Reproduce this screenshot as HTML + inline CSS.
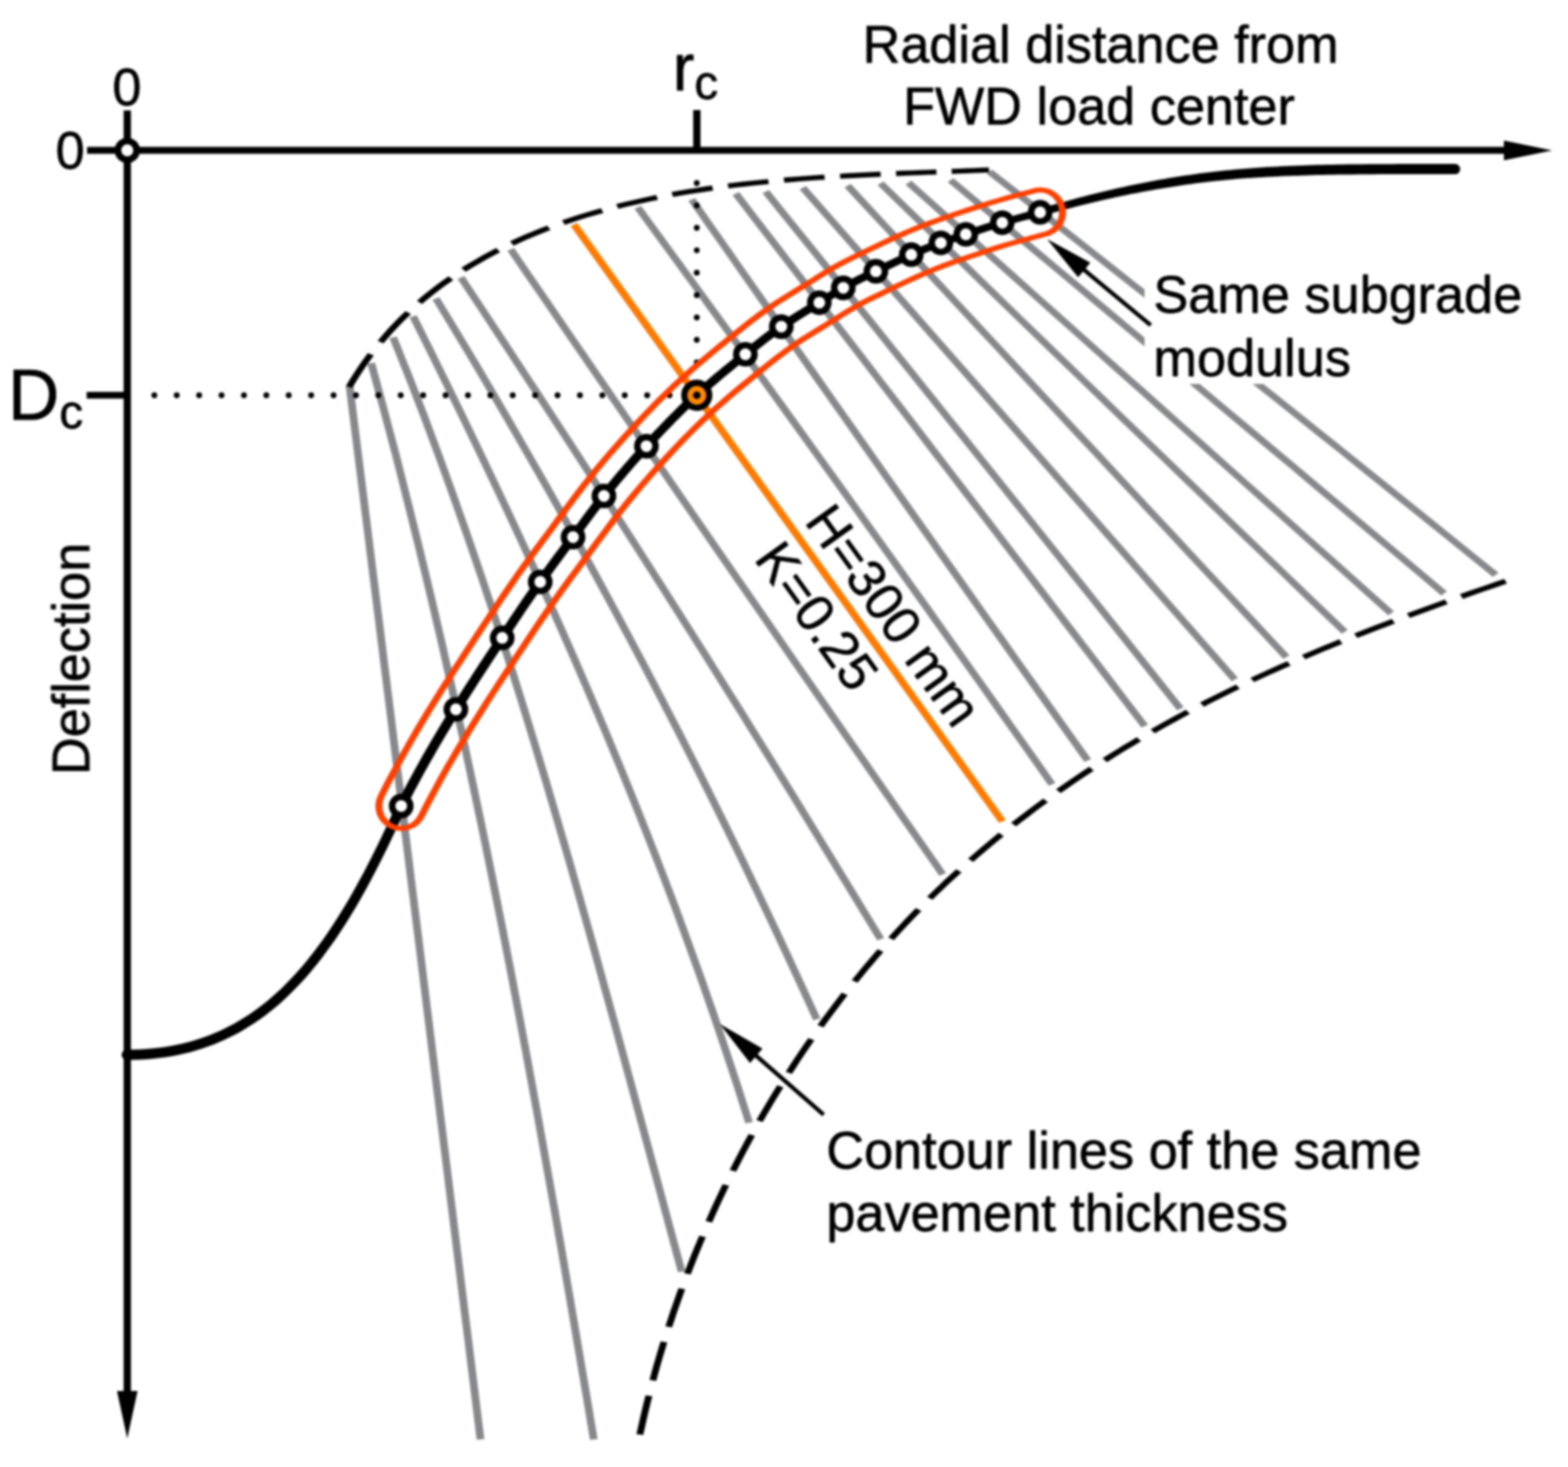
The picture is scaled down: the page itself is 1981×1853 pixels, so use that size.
<!DOCTYPE html>
<html lang="en"><head><meta charset="utf-8"><title>Deflection basin and contour lines</title>
<style>html,body{margin:0;padding:0;background:#fff}body{width:1981px;height:1853px;overflow:hidden}svg{display:block}text{font-family:"Liberation Sans",Arial,Helvetica,sans-serif;fill:#000}</style></head><body>
<svg width="1981" height="1853" viewBox="0 0 1981 1853">
<rect width="1981" height="1853" fill="#fff"/>
<defs><filter id="soft" x="0" y="0" width="1981" height="1853" filterUnits="userSpaceOnUse" color-interpolation-filters="sRGB"><feGaussianBlur stdDeviation="1.7 1.5"/></filter><clipPath id="nobox"><path clip-rule="evenodd" d="M0 0H1981V1853H0Z M1446 340H1946V485H1446Z"/></clipPath></defs>
<g filter="url(#soft)">
<g clip-path="url(#nobox)"><g fill="none" stroke="#87888c" stroke-width="7.5" transform="scale(1.3 1)">
<path d="M339.7,486.8 L345.2,544.7 L350.8,602.6 L356.4,660.5 L361.9,718.3 L367.5,776.2 L373,834.1 L378.6,892 L384.1,949.9 L389.7,1007.8 L395.2,1065.6 L400.7,1123.5 L406.3,1181.4 L411.8,1239.3 L417.3,1297.2 L422.8,1355.1 L428.3,1413 L433.9,1470.9 L439.4,1528.8 L444.9,1586.6 L450.4,1644.5 L456,1702.4 L461.5,1760.3 L467,1818.2"/>
<path d="M360.8,458.8 L373,517.2 L384.9,575.6 L396.3,634.2 L407.5,692.8 L418.4,751.5 L429,810.3 L439.2,869.2 L449.3,928.1 L459,987.1 L468.6,1046.2 L477.9,1105.3 L487,1164.5 L495.9,1223.7 L504.6,1283 L513.1,1342.3 L521.5,1401.7 L529.7,1461.1 L537.9,1520.6 L545.9,1580.1 L553.8,1639.6 L561.6,1699.1 L569.4,1758.6 L577.1,1818.2"/>
<path d="M382.1,426.2 L397.5,476.2 L412.4,526.4 L426.8,576.8 L440.9,627.4 L454.6,678.1 L468,728.9 L481,779.9 L493.7,831 L506.1,882.2 L518.2,933.5 L530.1,984.9 L541.8,1036.5 L553.3,1088 L564.6,1139.7 L575.8,1191.4 L586.8,1243.2 L597.8,1295 L608.6,1346.8 L619.4,1398.7 L630.2,1450.5 L641,1502.4 L651.7,1554.3 L662.5,1606.2"/>
<path d="M401.5,399.7 L418,442.7 L434.4,485.9 L450.6,529 L466.6,572.3 L482.5,615.7 L498.2,659.2 L513.7,702.7 L529,746.4 L544,790.2 L558.9,834.2 L573.5,878.2 L587.9,922.4 L602,966.7 L615.9,1011.1 L629.5,1055.7 L642.9,1100.5 L656,1145.3 L668.7,1190.4 L681.2,1235.6 L693.4,1281 L705.2,1326.5 L716.8,1372.2 L728,1418.2"/>
<path d="M423.7,377 L441.6,415.3 L459.4,453.8 L476.9,492.4 L494.3,531.1 L511.5,569.9 L528.6,608.8 L545.5,647.8 L562.3,687 L578.8,726.2 L595.2,765.6 L611.5,805.1 L627.6,844.7 L643.5,884.4 L659.3,924.2 L674.9,964.1 L690.3,1004.2 L705.6,1044.3 L720.7,1084.6 L735.6,1125 L750.4,1165.5 L765,1206.1 L779.5,1246.8 L793.8,1287.6"/>
<path d="M448,350.5 L466.3,386.4 L484.5,422.3 L502.7,458.2 L520.9,494.2 L539,530.3 L557.1,566.3 L575.1,602.5 L593,638.6 L610.9,674.8 L628.7,711.1 L646.5,747.4 L664.3,783.8 L682,820.1 L699.6,856.6 L717.2,893 L734.7,929.6 L752.2,966.1 L769.6,1002.7 L786.9,1039.4 L804.2,1076.1 L821.5,1112.8 L838.7,1149.6 L855.9,1186.4"/>
<path d="M496.4,315 L514.5,349.4 L532.7,383.8 L550.8,418.3 L569,452.6 L587.2,487 L605.4,521.4 L623.6,555.8 L641.8,590.1 L660,624.5 L678.2,658.8 L696.5,693.2 L714.7,727.5 L733,761.8 L751.2,796.1 L769.5,830.4 L787.8,864.7 L806.1,898.9 L824.4,933.2 L842.8,967.5 L861.1,1001.7 L879.4,1035.9 L897.8,1070.2 L916.1,1104.4"/>
<path d="M619.9,262 L637.6,293.5 L655.3,325 L673,356.5 L690.6,388.1 L708.3,419.6 L725.9,451.2 L743.5,482.8 L761,514.4 L778.6,546.1 L796.1,577.7 L813.6,609.4 L831.1,641 L848.6,672.7 L866.1,704.5 L883.5,736.2 L900.9,767.9 L918.3,799.7 L935.7,831.5 L953.1,863.3 L970.4,895.1 L987.8,927 L1005.1,958.8 L1022.4,990.7"/>
<path d="M672.3,252 L688.9,282.9 L705.6,313.8 L722.2,344.7 L738.9,375.6 L755.5,406.4 L772.2,437.3 L788.9,468.1 L805.6,499 L822.3,529.8 L839,560.6 L855.7,591.5 L872.4,622.3 L889.2,653.1 L905.9,683.8 L922.7,714.6 L939.5,745.4 L956.2,776.2 L973,806.9 L989.8,837.7 L1006.6,868.4 L1023.4,899.1 L1040.2,929.9 L1057.1,960.6"/>
<path d="M715.1,244.5 L732.4,273.8 L749.7,303 L767,332.2 L784.3,361.4 L801.6,390.6 L818.9,419.8 L836.2,449 L853.5,478.3 L870.8,507.5 L888.1,536.7 L905.3,566 L922.6,595.2 L939.9,624.5 L957.2,653.7 L974.4,682.9 L991.7,712.2 L1009,741.5 L1026.2,770.7 L1043.5,800 L1060.7,829.2 L1078,858.5 L1095.2,887.8 L1112.5,917.1"/>
<path d="M744.2,242.1 L761.8,270.4 L779.4,298.7 L797,327.1 L814.5,355.4 L832.1,383.7 L849.7,412.1 L867.2,440.5 L884.8,468.8 L902.3,497.2 L919.8,525.6 L937.4,554 L954.9,582.4 L972.4,610.8 L989.9,639.2 L1007.4,667.6 L1024.9,696.1 L1042.4,724.5 L1059.9,752.9 L1077.4,781.4 L1094.8,809.8 L1112.3,838.3 L1129.7,866.8 L1147.2,895.2"/>
<path d="M780.2,237.1 L798.4,264.1 L816.7,291.1 L835,318.1 L853.2,345.1 L871.5,372.1 L889.8,399.1 L908,426.1 L926.3,453.1 L944.6,480.1 L962.8,507.1 L981.1,534.1 L999.3,561.1 L1017.6,588.1 L1035.8,615.2 L1054.1,642.2 L1072.3,669.2 L1090.6,696.2 L1108.8,723.2 L1127,750.3 L1145.3,777.3 L1163.5,804.3 L1181.8,831.4 L1200,858.4"/>
<path d="M823.8,234.5 L842.3,260.5 L860.8,286.4 L879.3,312.3 L897.8,338.2 L916.3,364.1 L934.8,390.1 L953.3,416 L971.9,441.9 L990.4,467.8 L1008.9,493.7 L1027.5,519.6 L1046,545.5 L1064.6,571.3 L1083.1,597.2 L1101.7,623.1 L1120.2,649 L1138.8,674.8 L1157.3,700.7 L1175.9,726.6 L1194.4,752.4 L1213,778.3 L1231.6,804.1 L1250.2,830"/>
<path d="M855.8,231.5 L875.3,256.2 L894.9,280.9 L914.4,305.7 L934,330.4 L953.5,355.1 L973.1,379.8 L992.6,404.5 L1012.2,429.2 L1031.8,453.8 L1051.4,478.5 L1071,503.1 L1090.6,527.8 L1110.2,552.4 L1129.9,577 L1149.5,601.6 L1169.1,626.2 L1188.8,650.8 L1208.4,675.4 L1228.1,700 L1247.8,724.5 L1267.4,749.1 L1287.1,773.6 L1306.8,798.1"/>
<path d="M882.9,230.8 L903.3,254.4 L923.7,278.1 L944.1,301.7 L964.5,325.3 L984.9,349 L1005.3,372.6 L1025.7,396.3 L1046.1,419.9 L1066.5,443.6 L1086.9,467.2 L1107.3,490.8 L1127.7,514.5 L1148.1,538.1 L1168.5,561.8 L1188.8,585.4 L1209.2,609.1 L1229.6,632.7 L1250,656.4 L1270.4,680.1 L1290.8,703.7 L1311.2,727.4 L1331.5,751 L1351.9,774.7"/>
<path d="M923.8,227.5 L944.7,250.2 L965.5,272.8 L986.4,295.4 L1007.3,318.1 L1028.2,340.7 L1049.1,363.4 L1070,386.1 L1090.8,408.7 L1111.7,431.4 L1132.6,454.1 L1153.4,476.8 L1174.3,499.5 L1195.1,522.2 L1216,544.9 L1236.8,567.6 L1257.7,590.3 L1278.5,613.1 L1299.3,635.8 L1320.1,658.5 L1341,681.3 L1361.8,704 L1382.6,726.8 L1403.4,749.6"/>
<path d="M961.6,216.8 L983.1,238.7 L1004.6,260.7 L1026.1,282.6 L1047.6,304.6 L1069.1,326.6 L1090.5,348.7 L1112,370.7 L1133.4,392.8 L1154.8,414.9 L1176.3,437 L1197.7,459.1 L1219,481.3 L1240.4,503.4 L1261.8,525.6 L1283.1,547.8 L1304.5,570 L1325.8,592.3 L1347.1,614.6 L1368.4,636.8 L1389.7,659.1 L1411,681.5 L1432.3,703.8 L1453.6,726.2"/>
</g></g>
<g fill="none" stroke="#000" stroke-width="6.4" transform="scale(1.36 1)">
<path d="M324.3,488.7 L328.1,480.1 L332.1,471.7 L336.1,463.4 L340.2,455.4 L344.5,447.5 M353.5,432.1 L358.4,424.2 L363.4,416.6 L368.6,409.2 L373.8,402 L379.2,394.9 M389.7,382 L395.3,375.5 L401.1,369.2 L406.9,363.1 L412.9,357.1 L418.9,351.4 M430.6,340.8 L436.9,335.5 L443.3,330.4 L449.7,325.4 L456.2,320.6 L462.8,315.9 M475.5,307.5 L482.3,303.2 L489.1,299.1 L496,295.2 L503,291.4 L509.9,287.7 M523.4,281.1 L530.5,277.8 L537.7,274.6 L544.9,271.6 L552.2,268.7 L559.4,265.9 M573.4,260.8 L580.7,258.3 L588.1,256 L595.5,253.7 L602.9,251.5 L610.4,249.4 M624.5,245.7 L632,243.9 L639.5,242.2 L647,240.6 L654.5,239 L662,237.5 M676.3,234.9 L683.8,233.7 L691.3,232.5 L698.8,231.3 L706.4,230.3 L713.9,229.3 M728.3,227.5 L735.8,226.7 L743.4,225.9 L750.9,225.1 L758.5,224.4 L766,223.7 M780.4,222.6 L787.9,222 L795.5,221.5 L803,221 L810.5,220.5 L818.1,220 M832.4,219.2 L839.9,218.8 L847.4,218.4 L854.9,218 L862.4,217.6 L869.9,217.2 M884.1,216.5 L891,216.1 L898,215.8 L905,215.4 L911.9,215 L918.8,214.6 M1398.6,734.1 L1390.4,738 L1382.2,741.8 L1374,745.7 L1365.8,749.5 L1357.6,753.5 M1343.6,760.2 L1336.5,763.6 L1329.5,767.1 L1322.4,770.6 L1315.3,774.1 L1308.3,777.6 M1294.4,784.6 L1287.4,788.3 L1280.4,791.9 L1273.3,795.6 L1266.3,799.3 L1259.4,803 M1245.6,810.4 L1238.7,814.3 L1231.7,818.1 L1224.8,822.1 L1217.9,826 L1211,830 M1197.4,837.9 L1190.6,842 L1183.7,846.2 L1176.9,850.4 L1170.1,854.6 L1163.3,858.9 M1150,867.4 L1143.3,871.8 L1136.6,876.3 L1129.9,880.8 L1123.2,885.4 L1116.6,890 M1103.5,899.2 L1096.9,904 L1090.4,908.9 L1083.8,913.8 L1077.3,918.7 L1070.8,923.7 M1058.1,933.7 L1051.7,938.9 L1045.3,944.1 L1039,949.4 L1032.6,954.8 L1026.3,960.2 M1014,971 L1007.8,976.5 L1001.6,982.2 L995.4,987.9 L989.3,993.6 L983.2,999.4 M971.3,1011 L965.3,1017 L959.3,1023 L953.4,1029.2 L947.5,1035.3 L941.6,1041.5 M930.1,1054 L924.4,1060.4 L918.7,1066.8 L913,1073.4 L907.3,1080 L901.7,1086.6 M890.8,1099.9 L885.3,1106.7 L879.8,1113.6 L874.4,1120.6 L869,1127.6 L863.7,1134.7 M853.4,1148.8 L848.1,1156.1 L843,1163.4 L837.9,1170.8 L832.8,1178.3 L827.8,1185.8 M818,1200.7 L813.1,1208.4 L808.2,1216.2 L803.4,1223.9 L798.6,1231.8 L793.9,1239.7 M784.7,1255.4 L780.1,1263.5 L775.6,1271.6 L771.1,1279.7 L766.6,1287.9 L762.2,1296.2 M753.7,1312.6 L749.4,1321 L745.2,1329.4 L741,1337.9 L736.9,1346.5 L732.8,1355.1 M724.9,1372.1 L720.9,1380.8 L717,1389.5 L713.2,1398.3 L709.4,1407.1 L705.6,1416 M698.4,1433.6 L694.8,1442.5 L691.2,1451.6 L687.7,1460.6 L684.3,1469.7 L680.8,1478.8 M674.3,1496.8 L671,1506.1 L667.8,1515.3 L664.6,1524.6 L661.5,1533.9 L658.5,1543.2 M652.6,1561.7 L649.7,1571.1 L646.8,1580.5 L644,1590 L641.3,1599.5 L638.6,1609 M633.4,1627.8 L630.9,1637.4 L628.4,1647 L625.9,1656.6 L623.6,1666.2 L621.2,1675.9 M616.8,1695 L614.6,1704.7 L612.5,1714.4 L610.4,1724.2 L608.4,1733.9 L606.5,1743.7 M602.8,1763 L601,1772.8 L599.3,1782.6 L597.6,1792.4 L596,1802.3 L594.4,1812.1"/>
</g>
<g fill="#000">
<circle cx="195" cy="499.3" r="3.7"/>
<circle cx="223.3" cy="499.3" r="3.7"/>
<circle cx="251.6" cy="499.3" r="3.7"/>
<circle cx="279.9" cy="499.3" r="3.7"/>
<circle cx="308.2" cy="499.3" r="3.7"/>
<circle cx="336.5" cy="499.3" r="3.7"/>
<circle cx="364.8" cy="499.3" r="3.7"/>
<circle cx="393.1" cy="499.3" r="3.7"/>
<circle cx="421.4" cy="499.3" r="3.7"/>
<circle cx="449.7" cy="499.3" r="3.7"/>
<circle cx="478" cy="499.3" r="3.7"/>
<circle cx="506.3" cy="499.3" r="3.7"/>
<circle cx="534.6" cy="499.3" r="3.7"/>
<circle cx="562.9" cy="499.3" r="3.7"/>
<circle cx="591.2" cy="499.3" r="3.7"/>
<circle cx="619.5" cy="499.3" r="3.7"/>
<circle cx="647.8" cy="499.3" r="3.7"/>
<circle cx="676.1" cy="499.3" r="3.7"/>
<circle cx="704.4" cy="499.3" r="3.7"/>
<circle cx="732.7" cy="499.3" r="3.7"/>
<circle cx="761" cy="499.3" r="3.7"/>
<circle cx="789.3" cy="499.3" r="3.7"/>
<circle cx="817.6" cy="499.3" r="3.7"/>
<circle cx="845.9" cy="499.3" r="3.7"/>
<circle cx="880.3" cy="231.2" r="3.7"/>
<circle cx="880.3" cy="259.5" r="3.7"/>
<circle cx="880.3" cy="287.8" r="3.7"/>
<circle cx="880.3" cy="316.1" r="3.7"/>
<circle cx="880.3" cy="344.4" r="3.7"/>
<circle cx="880.3" cy="372.7" r="3.7"/>
<circle cx="880.3" cy="401" r="3.7"/>
<circle cx="880.3" cy="429.3" r="3.7"/>
<circle cx="880.3" cy="457.6" r="3.7"/>
</g>
<g fill="none" stroke="#ff7a00" stroke-width="7.5" transform="scale(1.3 1)"><path d="M557.8,283.6 L974.1,1037.5"/></g>
<path d="M160.3,1338.8 L168.8,1338.7 L177.2,1338.4 L185.6,1337.9 L193.8,1337.2 L201.9,1336.3 L209.8,1335.2 L217.7,1333.9 L225.4,1332.4 L233,1330.7 L240.5,1328.9 L247.9,1326.8 L255.2,1324.5 L262.4,1322.1 L269.5,1319.4 L276.5,1316.6 L283.4,1313.6 L290.1,1310.3 L296.8,1306.9 L303.4,1303.4 L309.9,1299.6 L316.3,1295.6 L322.6,1291.5 L328.8,1287.2 L335,1282.7 L341,1278 L347,1273.2 L352.9,1268.2 L358.7,1263 L364.4,1257.6 L370,1252 L375.6,1246.3 L381.1,1240.4 L386.6,1234.4 L392,1228.2 L397.3,1221.8 L402.6,1215.2 L407.8,1208.5 L412.9,1201.6 L418,1194.6 L423.1,1187.4 L428.1,1180 L433,1172.5 L438,1164.8 L442.8,1156.9 L447.7,1148.9 L452.5,1140.8 L457.2,1132.4 L462,1124 L466.7,1115.3 L471.3,1106.5 L476,1097.6 L480.6,1088.5 L485.2,1079.3 L489.8,1069.9 L494.4,1060.3 L499,1050.6 L503.6,1040.8 L508.1,1030.8 L512.6,1020.8 L515.4,1015.2 L518.3,1009.5 L521.3,1003.8 L524.2,998.1 L527.3,992.5 L530.3,986.8 L533.3,981.2 L536.4,975.5 L539.5,969.9 L542.7,964.3 L545.8,958.7 L549,953.2 L552.2,947.6 L555.4,942.1 L558.7,936.5 L561.9,931 L565.2,925.5 L568.5,920 L571.8,914.5 L575.2,909 L578.5,903.5 L581.9,898.1 L585.3,892.6 L588.7,887.2 L592.2,881.7 L595.6,876.3 L599.1,870.9 L602.5,865.5 L606,860.1 L609.5,854.7 L613,849.3 L616.5,843.9 L620,838.5 L623.6,833.1 L627.1,827.8 L630.6,822.4 L634.2,817 L637.7,811.6 L641.3,806.3 L644.8,800.9 L648.4,795.5 L651.9,790.2 L655.5,784.8 L659.1,779.5 L662.6,774.1 L666.2,768.8 L669.8,763.5 L673.5,758.2 L677.1,752.9 L680.8,747.6 L684.4,742.4 L688.2,737.1 L691.9,731.9 L695.6,726.7 L699.4,721.5 L703.2,716.3 L707,711.2 L710.8,706 L714.7,700.8 L718.5,695.6 L722.3,690.5 L726.2,685.3 L730,680.1 L733.8,674.9 L737.6,669.7 L741.4,664.5 L745.3,659.3 L749.1,654.2 L752.9,649 L756.8,643.9 L760.7,638.8 L764.6,633.7 L768.5,628.7 L772.5,623.7 L776.5,618.7 L780.6,613.8 L784.6,608.8 L788.8,603.9 L792.9,599 L797.1,594.2 L801.3,589.3 L805.5,584.5 L809.8,579.7 L814,574.9 L818.3,570.1 L822.7,565.4 L827,560.7 L831.4,556 L835.8,551.3 L840.2,546.6 L844.6,542 L849.1,537.4 L853.5,532.8 L858.1,528.2 L862.6,523.7 L867.2,519.3 L871.8,514.8 L876.4,510.4 L881.1,506.1 L885.8,501.8 L890.6,497.5 L895.3,493.3 L900.2,489.1 L905,484.9 L909.9,480.7 L914.8,476.6 L919.7,472.5 L924.7,468.4 L929.7,464.3 L934.6,460.2 L939.6,456.2 L944.6,452.1 L949.6,448 L954.6,444 L959.6,440 L964.7,436 L969.7,432 L974.8,428.2 L979.9,424.3 L985,420.6 L990.2,416.9 L995.4,413.4 L1000.7,409.9 L1006.1,406.4 L1011.5,403 L1017,399.6 L1022.5,396.2 L1028,392.9 L1033.5,389.5 L1038.9,386 L1044.4,382.6 L1049.8,379.1 L1055.2,375.7 L1060.7,372.3 L1066.1,369.1 L1071.6,366 L1077.2,362.9 L1082.8,360 L1088.5,357.1 L1094.3,354.3 L1100.1,351.4 L1105.9,348.6 L1111.7,345.8 L1117.5,343 L1123.3,340.2 L1129,337.4 L1134.8,334.7 L1140.6,332 L1146.4,329.3 L1152.3,326.7 L1158.1,324.1 L1164,321.6 L1169.9,319.2 L1175.9,316.8 L1181.8,314.5 L1187.8,312.3 L1193.8,310.1 L1199.8,308 L1205.9,305.9 L1212,303.8 L1218.1,301.8 L1224.2,299.7 L1230.3,297.7 L1236.4,295.7 L1242.5,293.7 L1248.6,291.7 L1254.7,289.7 L1260.8,287.8 L1267,286 L1273.1,284.2 L1279.3,282.4 L1285.4,280.7 L1291.6,279 L1297.9,277.4 L1304.1,275.8 L1310.3,274.1 L1316.6,272.5 L1322.8,270.8 L1329,269.1 L1335.2,267.4 L1341.4,265.7 L1347.7,264.1 L1353.9,262.4 L1360.1,260.8 L1366.3,259.3 L1372.5,257.7 L1378.8,256.2 L1385,254.7 L1391.3,253.3 L1397.5,251.8 L1403.8,250.4 L1410,249.1 L1416.3,247.7 L1422.6,246.4 L1428.9,245.1 L1435.2,243.9 L1441.5,242.7 L1447.8,241.5 L1454.1,240.4 L1460.4,239.3 L1466.7,238.2 L1473,237.2 L1479.4,236.2 L1485.7,235.2 L1492.1,234.3 L1498.4,233.3 L1504.7,232.5 L1511.1,231.6 L1517.5,230.8 L1523.8,230 L1530.2,229.3 L1536.6,228.6 L1542.9,227.9 L1549.3,227.3 L1555.7,226.7 L1562.1,226.1 L1568.4,225.6 L1574.8,225.1 L1581.2,224.7 L1587.6,224.3 L1594,223.9 L1600.4,223.5 L1606.8,223.2 L1613.2,222.9 L1619.7,222.6 L1626.1,222.3 L1632.5,222.1 L1638.9,221.9 L1645.3,221.7 L1651.7,221.5 L1658.2,221.3 L1664.6,221.1 L1671,221 L1677.4,220.8 L1683.9,220.7 L1690.3,220.6 L1696.7,220.5 L1703.1,220.4 L1709.6,220.4 L1716,220.3 L1722.4,220.3 L1728.9,220.2 L1735.3,220.2 L1741.7,220.1 L1748.2,220.1 L1754.6,220.1 L1761,220.1 L1767.5,220.1 L1773.9,220.1 L1780.3,220.1 L1786.8,220.1 L1793.2,220.1 L1799.7,220.1 L1806.1,220.1 L1812.5,220.1 L1819,220.1 L1825.4,220.1 L1831.9,220.1 L1838.3,220.1 L1838.3,207.1 L1831.9,207.1 L1825.4,207.1 L1819,207.1 L1812.5,207.1 L1806.1,207.1 L1799.7,207.1 L1793.2,207.1 L1786.8,207.1 L1780.3,207.1 L1773.9,207.1 L1767.4,207.1 L1761,207.2 L1754.6,207.2 L1748.1,207.2 L1741.7,207.2 L1735.2,207.3 L1728.8,207.3 L1722.3,207.4 L1715.9,207.4 L1709.4,207.5 L1703,207.6 L1696.5,207.7 L1690.1,207.8 L1683.6,207.9 L1677.2,208 L1670.7,208.2 L1664.3,208.3 L1657.8,208.5 L1651.4,208.7 L1644.9,208.9 L1638.4,209.2 L1632,209.4 L1625.5,209.7 L1619.1,210 L1612.6,210.4 L1606.2,210.7 L1599.7,211.1 L1593.3,211.5 L1586.8,212 L1580.3,212.4 L1573.9,212.9 L1567.4,213.5 L1561,214.1 L1554.5,214.7 L1548.1,215.3 L1541.7,216 L1535.2,216.7 L1528.8,217.5 L1522.4,218.3 L1516,219.1 L1509.5,220 L1503.1,220.9 L1496.7,221.8 L1490.3,222.8 L1483.9,223.8 L1477.5,224.8 L1471.2,225.9 L1464.8,227.1 L1458.4,228.2 L1452.1,229.4 L1445.7,230.7 L1439.4,231.9 L1433,233.2 L1426.7,234.5 L1420.4,235.9 L1414.1,237.3 L1407.7,238.7 L1401.4,240.2 L1395.2,241.7 L1388.9,243.2 L1382.6,244.8 L1376.3,246.3 L1370.1,248 L1363.8,249.6 L1357.6,251.3 L1351.3,252.9 L1345.1,254.7 L1338.9,256.4 L1332.7,258.1 L1326.5,259.8 L1320.3,261.6 L1314.1,263.3 L1307.9,265 L1301.7,266.7 L1295.4,268.3 L1289.2,270 L1283,271.7 L1276.7,273.4 L1270.5,275.2 L1264.3,277 L1258.1,278.8 L1251.9,280.7 L1245.7,282.6 L1239.6,284.6 L1233.4,286.6 L1227.3,288.6 L1221.2,290.6 L1215,292.7 L1208.9,294.7 L1202.8,296.7 L1196.7,298.8 L1190.6,300.9 L1184.4,303.1 L1178.4,305.4 L1172.3,307.7 L1166.3,310.1 L1160.2,312.5 L1154.2,315.1 L1148.3,317.6 L1142.4,320.3 L1136.5,323 L1130.6,325.7 L1124.8,328.4 L1118.9,331.2 L1113.1,334 L1107.3,336.8 L1101.5,339.6 L1095.7,342.4 L1089.8,345.2 L1084,348 L1078.2,350.9 L1072.4,353.9 L1066.7,357 L1061,360.2 L1055.4,363.6 L1049.8,366.9 L1044.3,370.4 L1038.9,373.8 L1033.4,377.2 L1028,380.6 L1022.5,384 L1017,387.3 L1011.5,390.7 L1006,394.1 L1000.5,397.5 L995,401 L989.5,404.5 L984.1,408.2 L978.8,411.9 L973.5,415.7 L968.3,419.6 L963.1,423.5 L958,427.5 L952.9,431.5 L947.8,435.6 L942.8,439.6 L937.8,443.7 L932.8,447.7 L927.8,451.8 L922.8,455.9 L917.8,460 L912.8,464.1 L907.8,468.2 L902.8,472.3 L897.9,476.5 L893,480.7 L888.1,485 L883.2,489.2 L878.4,493.6 L873.6,497.9 L868.8,502.3 L864.1,506.8 L859.4,511.3 L854.8,515.8 L850.2,520.4 L845.6,525 L841.1,529.6 L836.6,534.2 L832.1,538.9 L827.6,543.6 L823.2,548.3 L818.8,553 L814.4,557.8 L810,562.6 L805.7,567.4 L801.3,572.2 L797,577 L792.8,581.9 L788.5,586.8 L784.3,591.7 L780.1,596.6 L775.9,601.5 L771.8,606.5 L767.7,611.5 L763.6,616.6 L759.6,621.6 L755.6,626.7 L751.6,631.9 L747.7,637 L743.8,642.2 L739.9,647.3 L736,652.5 L732.2,657.7 L728.4,662.9 L724.5,668.1 L720.7,673.2 L716.9,678.4 L713.1,683.6 L709.2,688.7 L705.4,693.9 L701.5,699.1 L697.7,704.3 L693.8,709.5 L690,714.7 L686.2,719.9 L682.4,725.1 L678.6,730.3 L674.9,735.6 L671.2,740.9 L667.5,746.2 L663.8,751.5 L660.1,756.8 L656.5,762.2 L652.9,767.5 L649.2,772.9 L645.6,778.2 L642.1,783.6 L638.5,788.9 L634.9,794.3 L631.3,799.7 L627.8,805 L624.2,810.4 L620.7,815.8 L617.1,821.2 L613.5,826.5 L610,831.9 L606.4,837.3 L602.9,842.7 L599.4,848.1 L595.9,853.5 L592.4,858.9 L588.9,864.3 L585.4,869.8 L581.9,875.2 L578.4,880.7 L575,886.1 L571.5,891.6 L568.1,897.1 L564.7,902.6 L561.4,908.1 L558,913.6 L554.7,919.1 L551.3,924.7 L548,930.2 L544.7,935.8 L541.5,941.4 L538.2,947 L535,952.6 L531.8,958.2 L528.7,963.9 L525.5,969.5 L522.4,975.2 L519.3,980.9 L516.2,986.6 L513.2,992.3 L510.2,998 L507.2,1003.8 L504.2,1009.5 L501.2,1015.4 L496.6,1025.6 L492.1,1035.5 L487.6,1045.3 L483,1054.9 L478.5,1064.4 L473.9,1073.7 L469.4,1082.8 L464.8,1091.8 L460.2,1100.7 L455.5,1109.3 L450.9,1117.8 L446.2,1126.2 L441.5,1134.4 L436.8,1142.4 L432,1150.3 L427.2,1158 L422.4,1165.6 L417.5,1172.9 L412.6,1180.2 L407.7,1187.2 L402.7,1194.1 L397.7,1200.8 L392.6,1207.3 L387.5,1213.7 L382.3,1219.9 L377,1226 L371.8,1231.8 L366.4,1237.5 L361,1243 L355.6,1248.4 L350,1253.5 L344.4,1258.5 L338.8,1263.4 L333.1,1268 L327.3,1272.5 L321.4,1276.8 L315.4,1280.9 L309.4,1284.8 L303.3,1288.6 L297.1,1292.2 L290.9,1295.6 L284.5,1298.8 L278,1301.9 L271.5,1304.7 L264.8,1307.4 L258.1,1309.9 L251.3,1312.3 L244.3,1314.4 L237.2,1316.4 L230.1,1318.2 L222.8,1319.8 L215.4,1321.2 L207.9,1322.4 L200.3,1323.4 L192.5,1324.3 L184.6,1325 L176.6,1325.4 L168.5,1325.7 L160.1,1325.8 Z" fill="#000"/>
<circle cx="160.2" cy="1332.3" r="6.5" fill="#000"/><circle cx="1838.3" cy="213.6" r="6.5" fill="#000"/>
<g fill="none" stroke="#ff3f00" stroke-width="6.4" stroke-linejoin="round" transform="scale(1.36 1)"><path d="M393.2,1025.8 L396.9,1015.9 L400.8,1006 L404.7,996.1 L408.6,986.2 L412.6,976.4 L416.7,966.6 L420.9,956.9 L425,947.2 L429.3,937.5 L433.6,927.9 L437.9,918.2 L442.3,908.6 L446.7,899.1 L451.1,889.5 L455.6,880 L460.1,870.5 L464.7,860.9 L469.3,851.4 L473.9,841.9 L478.5,832.4 L483.1,822.9 L487.8,813.3 L492.4,803.8 L497.1,794.4 L501.7,785 L506.4,775.7 L511.1,766.4 L515.8,757.2 L520.6,748 L525.4,738.9 L530.3,729.8 L535.3,720.7 L540.3,711.5 L545.3,702.3 L547.8,697.7 L550.3,693 L555.3,683.8 L560.3,674.7 L565.3,665.6 L570.2,656.6 L575.2,647.8 L580.2,639.1 L585.4,630.5 L590.6,621.9 L595.9,613.4 L601.3,604.9 L606.7,596.5 L612.2,588.2 L617.8,579.9 L623.4,571.6 L629,563.5 L634.7,555.4 L640.4,547.5 L646.2,539.7 L652,532 L657.9,524.4 L663.9,517 L670,509.7 L676.2,502.4 L682.4,495.2 L688.8,488 L695.2,480.9 L701.7,473.7 L708.2,466.5 L714.7,459.4 L721.1,452.5 L727.5,445.9 L733.9,439.5 L740.3,433.4 L746.9,427.5 L753.8,421.7 L760.9,415.7 L764.5,412.7 L768.2,409.7 L771.8,406.6 L775.4,403.5 L782.5,397.4 L789.3,391.7 L796,386.4 L802.8,381.4 L810,376.5 L817.4,371.7 L825,366.7 L832.6,361.7 L840.1,356.9 L847.5,352.2 L854.8,347.7 L862.2,343.4 L869.6,339.3 L877.1,335.4 L884.7,331.6 L892.4,328 L900.3,324.4 L908.2,320.8 L916.1,317.3 L924,313.8 L931.8,310.5 L939.5,307.4 L947.4,304.4 L955.4,301.4 L963.5,298.5 L967.6,297 L973.6,294.7 L977.3,292.2 L980.5,288.8 L983.2,284.7 L985.2,279.9 L986.5,274.6 L987,269.1 L986.8,263.6 L985.7,258.2 L983.9,253.2 L981.4,248.8 L978.4,245.2 L974.8,242.4 L971,240.6 L966.9,239.9 L962.8,240.3 L956.8,242.4 L948.7,245.3 L944.6,246.8 L940.4,248.3 L936.3,249.8 L932.1,251.4 L927.9,253.1 L923.7,254.7 L919.6,256.4 L915.4,258.2 L911.3,259.9 L907.2,261.7 L903.2,263.5 L899.1,265.3 L891.1,268.9 L887.1,270.7 L883.1,272.6 L879,274.4 L874.9,276.4 L870.8,278.3 L866.6,280.3 L862.5,282.4 L858.4,284.5 L854.3,286.7 L850.2,288.9 L846.1,291.2 L842,293.5 L838,295.9 L834,298.3 L830,300.8 L826.1,303.2 L822.2,305.7 L818.4,308.2 L814.5,310.7 L806.9,315.7 L799.4,320.6 L795.5,323.2 L791.7,325.7 L787.8,328.4 L783.8,331.1 L779.9,333.9 L775.9,336.8 L771.9,339.9 L768,343.1 L764.2,346.2 L760.4,349.4 L756.8,352.6 L753.2,355.6 L746.2,361.5 L739.1,367.5 L735.5,370.5 L731.8,373.6 L728.1,376.7 L724.4,379.9 L720.7,383.2 L716.9,386.6 L713.2,390 L709.5,393.6 L705.9,397.1 L702.4,400.7 L698.9,404.3 L695.4,408 L692,411.6 L688.7,415.3 L685.3,418.9 L682,422.5 L675.5,429.7 L672.2,433.4 L668.9,437 L665.6,440.7 L662.3,444.4 L659,448.1 L655.7,451.9 L652.4,455.6 L649.1,459.4 L645.8,463.3 L642.5,467.1 L639.3,471 L636,475 L632.8,479 L629.6,483 L626.4,487 L623.2,491.1 L620.1,495.2 L617,499.4 L613.9,503.5 L610.8,507.7 L607.8,511.9 L604.8,516.1 L601.8,520.3 L598.8,524.5 L595.8,528.8 L592.9,533.1 L590,537.4 L587.1,541.6 L584.2,546 L581.3,550.3 L578.4,554.6 L575.6,559 L572.7,563.4 L569.9,567.8 L567,572.2 L564.2,576.6 L561.4,581.1 L558.6,585.6 L555.9,590.1 L553.1,594.7 L550.4,599.3 L547.7,603.9 L545,608.5 L542.3,613.1 L539.7,617.8 L537.1,622.4 L534.5,627.1 L531.9,631.7 L529.4,636.4 L526.8,641 L524.3,645.6 L519.3,654.8 L514.4,664 L509.4,673.2 L504.3,682.4 L501.8,687 L499.3,691.6 L496.8,696.3 L494.2,701 L491.7,705.7 L489.2,710.4 L486.7,715.1 L484.2,719.9 L481.7,724.6 L479.3,729.4 L476.8,734.2 L474.4,739 L472,743.7 L469.6,748.5 L467.2,753.3 L464.8,758.1 L462.5,762.9 L460.1,767.7 L457.8,772.5 L453.1,782.1 L448.4,791.6 L443.8,801.2 L439.1,810.8 L434.5,820.4 L432.2,825.2 L429.9,830 L427.6,834.8 L425.2,839.6 L422.9,844.5 L420.6,849.3 L418.3,854.2 L416.1,859.1 L413.8,863.9 L411.5,868.8 L409.2,873.7 L407,878.7 L404.7,883.6 L402.5,888.5 L400.2,893.5 L398,898.4 L395.8,903.4 L393.6,908.4 L391.4,913.4 L389.2,918.4 L387,923.4 L384.9,928.4 L382.7,933.5 L380.6,938.5 L378.5,943.6 L376.4,948.7 L374.3,953.7 L372.2,958.8 L370.1,964 L368.1,969.1 L366.1,974.2 L364,979.4 L362,984.5 L360,989.7 L358.1,994.9 L356.1,1000.1 L354.2,1005.3 L352.7,1010.5 L352,1015.9 L352.1,1021.5 L352.9,1026.9 L354.6,1032 L356.9,1036.5 L359.9,1040.4 L363.3,1043.3 L367.1,1045.4 L371.1,1046.3 L375.2,1046.2 L379.2,1045 L382.9,1042.8 L386.3,1039.6 L389.1,1035.6 L391.3,1030.9 Z"/></g>
<g fill="#fff" stroke="#000" stroke-width="8.2">
<circle cx="506.9" cy="1018.1" r="11.5"/>
<circle cx="576" cy="896" r="11.5"/>
<circle cx="634.5" cy="805.7" r="11.5"/>
<circle cx="682.5" cy="735" r="11.5"/>
<circle cx="724" cy="678.5" r="11.5"/>
<circle cx="763" cy="626.5" r="11.5"/>
<circle cx="816.7" cy="563.6" r="11.5"/>
<circle cx="941.7" cy="447.5" r="11.5"/>
<circle cx="987.1" cy="412.6" r="11.5"/>
<circle cx="1035.1" cy="382.3" r="11.5"/>
<circle cx="1065.4" cy="363.6" r="11.5"/>
<circle cx="1106.6" cy="342.7" r="11.5"/>
<circle cx="1151.3" cy="321.7" r="11.5"/>
<circle cx="1188.6" cy="306.8" r="11.5"/>
<circle cx="1220.2" cy="296" r="11.5"/>
<circle cx="1266.2" cy="281.3" r="11.5"/>
<circle cx="1314.1" cy="268.2" r="11.5"/>
</g>
<circle cx="880.3" cy="499.3" r="15.8" fill="#ff8800" stroke="#000" stroke-width="7.8"/>
<circle cx="880.3" cy="499.3" r="4.8" fill="#000"/>
<g fill="none" stroke="#000" stroke-width="8.6">
<path d="M110 189.9 H1905"/>
<path d="M160.8 139.5 V1762" stroke-width="9.2"/>
<path d="M880.4 139 V189.9" stroke-width="9.2"/>
<path d="M109.5 499.2 H160.8"/>
</g>
<path d="M1961 189.9 L1900 177.4 L1900 202.4 Z" fill="#000"/>
<path d="M160.8 1817 L147.8 1757 L173.8 1757 Z" fill="#000"/>
<circle cx="160.8" cy="189.9" r="11.8" fill="#fff" stroke="#000" stroke-width="8.4"/>
<path d="M1453.8,410.8 L1368.3,339.7" stroke="#000" stroke-width="5.2" fill="none"/><path d="M1322.9,302 L1377.5,331.8 L1362.1,350.2 Z" fill="#000"/>
<path d="M1040.6,1408 L953.9,1332.3" stroke="#000" stroke-width="5.2" fill="none"/><path d="M909.5,1293.5 L963.3,1324.6 L947.6,1342.7 Z" fill="#000"/>
<g stroke="#000" stroke-width="0.8" stroke-linejoin="round">
<text transform="translate(1390.5 78.5) scale(1 1.015)" font-size="66" text-anchor="middle">Radial distance from</text>
<text transform="translate(1388.5 157.3) scale(1 1.015)" font-size="66" text-anchor="middle">FWD load center</text>
<text transform="translate(1457.3 395) scale(1 1.015)" font-size="66">Same subgrade</text>
<text transform="translate(1457.3 474.5) scale(1 1.015)" font-size="66">modulus</text>
<text transform="translate(1044 1475.5) scale(1 1.015)" font-size="66">Contour lines of the same</text>
<text transform="translate(1044 1555) scale(1 1.015)" font-size="66">pavement thickness</text>
<text transform="translate(160.4 132.5) scale(1 1.015)" font-size="66" text-anchor="middle">0</text>
<text transform="translate(88.7 213) scale(1 1.015)" font-size="66" text-anchor="middle">0</text>
<text transform="translate(112.6 979) rotate(-90) scale(1 1.015)" font-size="66">Deflection</text>
<text transform="translate(1015.6 659.1) rotate(54.2) scale(1 1.015)" font-size="66">H=300 mm</text>
<text transform="translate(951.7 706.1) rotate(54.2) scale(1 1.015)" font-size="66">K=0.25</text>
<text transform="translate(10 530) scale(1 1.015)" font-size="90">D<tspan font-size="60" dy="10.5">c</tspan></text>
<text transform="translate(850 113.5) scale(1 1.015)" font-size="82">r<tspan font-size="60" dy="11">c</tspan></text>
</g>
</g>
</svg></body></html>
